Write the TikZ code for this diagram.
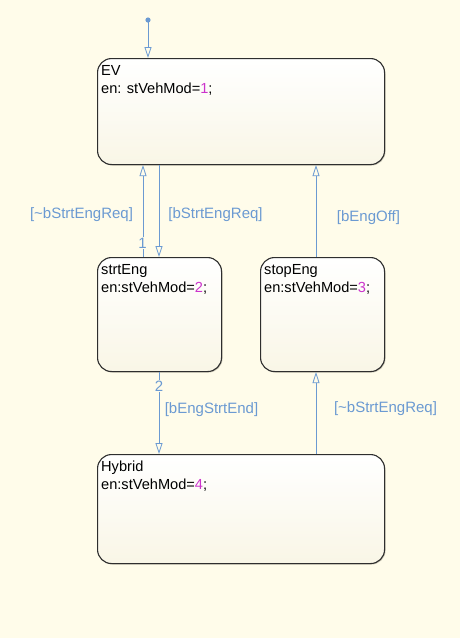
\documentclass[tikz,border=0pt]{standalone}
\usepackage{fontspec}
\setmainfont{Liberation Sans}
\usetikzlibrary{arrows.meta}
\definecolor{bg}{HTML}{FFFCEA}
\definecolor{boxbot}{HTML}{F9F6E6}
\definecolor{boxmid}{HTML}{FCFBF4}
\definecolor{tcol}{HTML}{6B9AD2}
\definecolor{num}{HTML}{CC33CC}
\definecolor{edge}{HTML}{2E2E2E}
\definecolor{shadowc}{HTML}{C9C5B4}
\tikzset{
  stbox/.style={draw=edge, line width=1.1pt, rounded corners=14pt, inner sep=0pt,
    top color=white, middle color=boxmid, bottom color=boxbot, anchor=north west},
  stshadow/.style={fill=shadowc, rounded corners=14pt},
  sttext/.style={anchor=north west, align=left, inner sep=0pt,
    font=\fontsize{14.6}{18}\selectfont},
  tr/.style={draw=tcol, line width=0.8pt, -{Triangle[open, length=11pt, width=7pt]}},
  trlab/.style={text=tcol, inner sep=0.5pt, font=\fontsize{15}{16}\selectfont},
  trnum/.style={text=tcol, fill=bg, inner sep=1pt, font=\fontsize{15}{16}\selectfont},
}
\begin{document}
\begin{tikzpicture}[x=1pt,y=-1pt]
\useasboundingbox[fill=bg] (0,0) rectangle (460,638);
% shadows
\fill[stshadow] (98.5,60) rectangle (385.5,165.5);
\fill[stshadow] (98.5,259) rectangle (222.5,372.5);
\fill[stshadow] (261.5,259) rectangle (385.5,372.5);
\fill[stshadow] (98.5,456) rectangle (385.5,564.5);
% states
\node[stbox, minimum width=287pt, minimum height=106pt] (ev) at (97,58) {};
\node[stbox, minimum width=124pt, minimum height=114pt] (strt) at (97,257) {};
\node[stbox, minimum width=124pt, minimum height=114pt] (stop) at (260,257) {};
\node[stbox, minimum width=287pt, minimum height=109pt] (hyb) at (97,454) {};
% state texts
\node[sttext] (evt) at (101,65) {EV\\en: stVehMod=\textcolor{num}{1};};
\node[sttext] (strtt) at (101,264) {strtEng\\en:stVehMod=\textcolor{num}{2};};
\node[sttext] (stopt) at (264,264) {stopEng\\en:stVehMod=\textcolor{num}{3};};
\node[sttext] (hybt) at (101,461) {Hybrid\\en:stVehMod=\textcolor{num}{4};};
% default transition
\fill[tcol] (148,20) circle (2.6pt) coordinate (init);
\draw[tr] (init) -- ([xshift=51pt]ev.north west);
% transitions
\draw[tr] ([xshift=46pt]strt.north west) -- ([xshift=46pt]ev.south west);
\draw[tr] ([xshift=62pt]ev.south west) -- ([xshift=62pt]strt.north west);
\draw[tr] ([xshift=219pt]ev.south west |- stop.north) -- ([xshift=219pt]ev.south west);
\draw[tr] ([xshift=62pt]strt.south west) -- ([xshift=62pt]hyb.north west);
\draw[tr] ([xshift=219pt]hyb.north west) -- ([xshift=219pt]hyb.north west |- stop.south);
% labels
\node[trlab] (l1) at (81.5,215) {[\textasciitilde bStrtEngReq]};
\node[trlab] (l2) at (215.5,215) {[bStrtEngReq]};
\node[trnum] (n1) at (142.5,243) {1};
\node[trlab] (l3) at (368.5,218) {[bEngOff]};
\node[trnum] (n2) at (159,386) {2};
\node[trlab] (l4) at (211.5,410) {[bEngStrtEnd]};
\node[trlab] (l5) at (385.5,409) {[\textasciitilde bStrtEngReq]};
\end{tikzpicture}
\end{document}
